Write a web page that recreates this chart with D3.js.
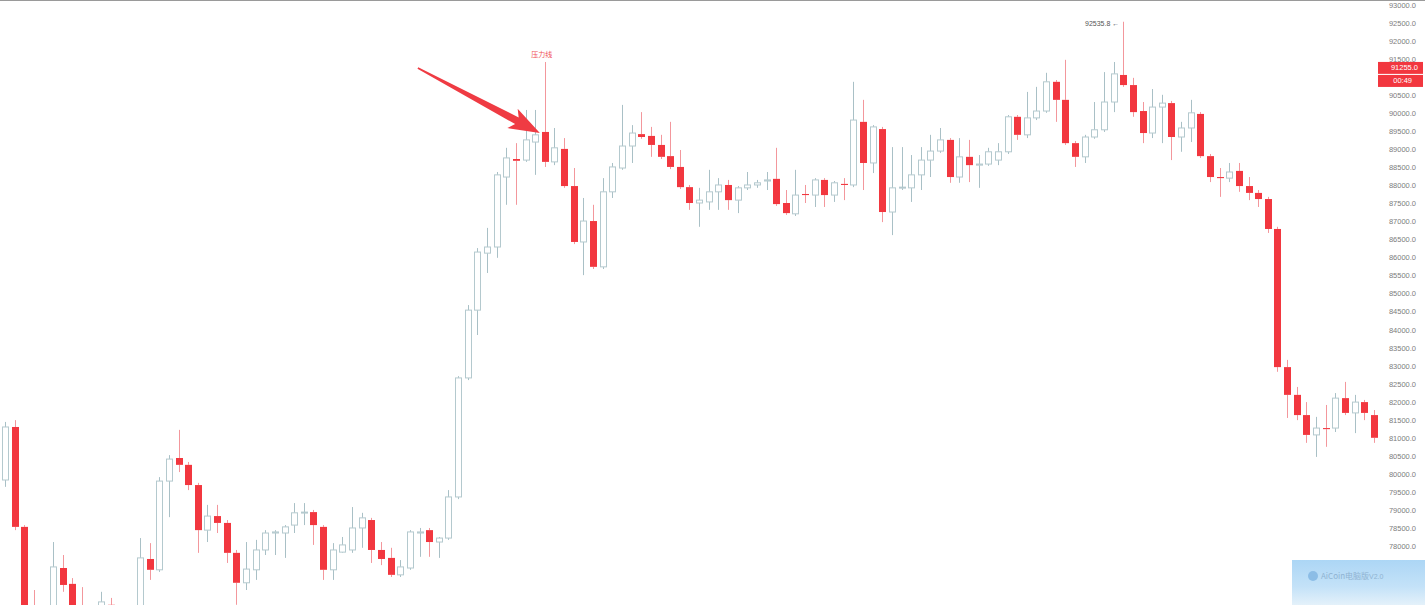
<!DOCTYPE html>
<html>
<head>
<meta charset="utf-8">
<script src="https://cdn.jsdelivr.net/npm/d3@7"></script>
<style>
  html, body { margin: 0; padding: 0; background: #fff; overflow: hidden; }
  svg { display: block; }
  text { font-family: "Liberation Sans", "DejaVu Sans", sans-serif; }
</style>
</head>
<body>
<div id="chart"></div>
<script>
// candle data
const opens = [79830,81300,78530,75950,75390,75950,77390,76950,76170,75810,
  76090,76370,76000,75810,76090,77640,77340,79800,80440,80250,
  79690,78440,78830,78640,77810,76980,77340,77890,78360,78360,
  78580,78920,78940,78530,77340,77830,77890,78500,78720,77890,
  77670,77200,77390,78360,78440,78110,78220,79360,82660,84540,
  86120,86290,88230,88730,88700,89200,89480,88650,89010,87980,
  86430,87010,85740,87820,88480,89090,89420,89370,89120,88810,
  88510,87950,87510,87540,87820,88010,87590,87930,88010,88120,
  88180,87510,87210,87760,87730,88150,87730,88040,88010,89760,
  88620,89560,87260,87930,87930,88290,88700,88950,89260,88230,
  88790,88560,88590,88700,88930,89900,89400,89870,90060,90870,
  90370,89170,88790,89340,89540,90310,91060,90780,90060,89450,
  90170,90280,89340,89590,89980,88810,88230,88200,88400,87980,
  87790,87620,86790,82960,82190,81630,81080,81270,81270,82100,
  81690,81990,81630];
const highs = [81440,81490,78580,76780,76170,78110,77750,77110,76860,76230,
  76730,76560,76230,76280,78220,78080,79910,80520,81220,80330,
  79750,79140,79140,78720,77890,78110,78170,78440,78440,78580,
  79190,79190,79000,78580,78080,78250,79080,78920,78780,78110,
  77950,77610,78440,78500,78500,78250,79550,82710,84680,86260,
  86820,88370,89040,89170,90090,90090,91420,89590,89310,88480,
  87650,87460,88200,88620,90230,89670,90030,89620,89400,89760,
  88980,88010,87930,88430,88200,88150,87980,88370,88150,88370,
  89040,87870,88430,88010,88200,88200,88120,88200,90870,90370,
  89670,89620,89060,89060,88840,89060,89400,89590,89310,89310,
  89260,88840,89040,89170,89950,89950,90590,90730,91120,90920,
  91480,89230,89400,90310,91140,91420,92535.8,90980,90310,90670,
  90510,90340,89760,90370,90030,88870,88480,88620,88620,88230,
  87870,87680,86850,83160,82410,81990,81580,81910,82240,82550,
  82190,82050,81770];
const lows = [79640,78440,75810,75120,75120,75810,76730,75950,75620,75530,
  75950,75810,75530,75620,75950,77060,77280,78800,80050,79550,
  77810,78110,78360,77530,76370,76780,77060,77750,77750,77670,
  78360,78580,78030,77060,77060,77810,77810,77950,77530,77470,
  77140,77140,77340,77700,77700,77670,78170,79300,82600,83850,
  85570,85990,87460,87460,88650,88290,88510,88560,87930,86370,
  85510,85680,85680,87650,88430,88620,89290,88790,88730,88450,
  87900,87320,86850,87320,87320,87320,87230,87870,87930,87870,
  87430,87180,87150,87510,87400,87400,87540,87590,87950,87870,
  88340,86980,86620,87870,87540,87870,88230,88900,88070,88070,
  88090,87930,88540,88560,88870,89260,89310,89810,90010,89760,
  89120,88510,88620,89290,89480,90030,90730,89900,89170,89310,
  89170,88700,88930,89200,88760,88090,87680,88090,87820,87590,
  87400,86680,82830,81550,81490,80860,80470,80750,81160,81630,
  81130,81490,80860];
const closes = [81300,78530,76090,75390,75670,77420,76920,76170,75810,76000,
  76450,76000,75810,76090,77670,77340,79800,80410,80250,79690,
  78440,78830,78640,77810,76980,77360,77890,78360,78390,78530,
  78920,78940,78580,77340,77890,78030,78500,78780,77890,77640,
  77200,77420,78390,78390,78110,78220,79360,82660,84540,86150,
  86290,88290,88760,88680,89260,89400,88650,89040,87980,86430,
  87010,85740,87820,88510,89090,89450,89340,89120,88790,88510,
  87950,87510,87590,87820,88010,87590,87930,88010,88070,88150,
  87480,87230,87730,87730,88150,87730,88070,88010,89810,88620,
  89620,87260,87930,87950,88290,88700,88950,89260,88230,88790,
  88560,88590,88930,88930,89900,89400,89870,90060,90870,90370,
  89170,88790,89340,89540,90310,91090,90780,90030,89450,90170,
  90280,89340,89590,90010,88810,88230,88200,88370,87980,87790,
  87620,86790,82960,82190,81630,81080,81270,81240,82100,81690,
  81990,81690,81000];

// right axis labels
const priceTicks = [93000,92500,92000,91500,91000,90500,90000,89500,89000,88500,
  88000,87500,87000,86500,86000,85500,85000,84500,84000,83500,
  83000,82500,82000,81500,81000,80500,80000,79500,79000,78500,78000];

const tagPrice = 91255.0;
const tagTimer = "00:49";
const noteText = "压力线";
const noteIndex = 56;
const watermark = "AiCoin电脑版";
const watermarkVer = "V2.0";

const svgWidth = 1425;
const svgHeight = 605;
const plotRight = 1378;

const upColor = "#b4c9ce";
const upWick = "#a9c0c6";
const downColor = "#f2373f";
const downWick = "#f3979c";

const candles = opens.map((o, i) => ({
  i: i, open: o, high: highs[i], low: lows[i], close: closes[i]
}));

const svg = d3.select("#chart").append("svg")
  .attr("width", svgWidth)
  .attr("height", svgHeight);

const x = d3.scaleLinear()
  .domain([0, candles.length - 1])
  .range([5, 1373.9]);

const y = d3.scaleLinear()
  .domain([78000, 93000])
  .range([546, 5]);

// top border
svg.append("line")
  .attr("x1", 0).attr("x2", svgWidth)
  .attr("y1", 0.5).attr("y2", 0.5)
  .attr("stroke", "#9a9a9a");

const plot = svg.append("g");
const bodyW = 7;

// wicks
const wick = plot.selectAll(".wick")
  .data(candles)
  .enter()
  .append("g")
  .attr("class", "wick");

wick.append("line")
  .attr("x1", d => Math.round(x(d.i)) + 0.5)
  .attr("x2", d => Math.round(x(d.i)) + 0.5)
  .attr("y1", d => y(d.high))
  .attr("y2", d => y(Math.max(d.open, d.close)))
  .attr("stroke", d => d.close >= d.open ? upWick : downWick)
  .attr("stroke-width", 1);

wick.append("line")
  .attr("x1", d => Math.round(x(d.i)) + 0.5)
  .attr("x2", d => Math.round(x(d.i)) + 0.5)
  .attr("y1", d => y(Math.min(d.open, d.close)))
  .attr("y2", d => y(d.low))
  .attr("stroke", d => d.close >= d.open ? upWick : downWick)
  .attr("stroke-width", 1);

// bodies
plot.selectAll(".body")
  .data(candles)
  .enter()
  .append("rect")
  .attr("class", "body")
  .attr("x", d => Math.round(x(d.i)) - 3 + (d.close >= d.open ? 0.5 : 0))
  .attr("width", d => d.close >= d.open ? bodyW - 1 : bodyW)
  .attr("y", d => y(Math.max(d.open, d.close)))
  .attr("height", d => Math.max(1, y(Math.min(d.open, d.close)) - y(Math.max(d.open, d.close))))
  .attr("fill", d => d.close >= d.open ? "#fff" : downColor)
  .attr("stroke", d => d.close >= d.open ? upColor : "none")
  .attr("stroke-width", 1);

// price tags position (axis labels under the tags are hidden)
const tagY = y(tagPrice);
const visibleTicks = priceTicks.filter(v => y(v) < tagY - 6 || y(v) > tagY + 22);

// right price axis
const rightAxis = d3.axisRight(y)
  .tickValues(visibleTicks)
  .tickSize(0)
  .tickFormat(d => d3.format(".1f")(d));

const axisG = svg.append("g")
  .attr("transform", `translate(${plotRight}, 0)`)
  .call(rightAxis);
axisG.select(".domain").remove();
axisG.selectAll("text")
  .attr("x", 38)
  .attr("text-anchor", "end")
  .attr("font-size", "7.5px")
  .attr("fill", "#7d7d7d")
  .style("font-family", "'Liberation Sans', sans-serif");

const tags = svg.append("g");
tags.append("rect")
  .attr("x", plotRight).attr("y", tagY - 6)
  .attr("width", 45).attr("height", 12)
  .attr("fill", downColor);
tags.append("line")
  .attr("x1", plotRight).attr("x2", plotRight + 45)
  .attr("y1", tagY + 6.5).attr("y2", tagY + 6.5)
  .attr("stroke", "#fff");
tags.append("rect")
  .attr("x", plotRight).attr("y", tagY + 7)
  .attr("width", 45).attr("height", 12)
  .attr("fill", downColor);
tags.append("text")
  .attr("x", plotRight + 40).attr("y", tagY + 2.5)
  .attr("text-anchor", "end")
  .attr("font-size", "7.5px")
  .attr("fill", "#fff")
  .text(d3.format(".1f")(tagPrice));
tags.append("text")
  .attr("x", plotRight + 34).attr("y", tagY + 15.5)
  .attr("text-anchor", "end")
  .attr("font-size", "7.5px")
  .attr("fill", "#fff")
  .text(tagTimer);

// highest price marker
const peak = candles.reduce((a, b) => b.high > a.high ? b : a);
svg.append("text")
  .attr("x", x(peak.i) - 4)
  .attr("y", y(peak.high) + 4)
  .attr("text-anchor", "end")
  .attr("font-size", "7px")
  .attr("fill", "#555")
  .text(d3.format(".1f")(peak.high) + " ←");

// note over the resistance candle
const nc = candles[noteIndex];
svg.append("text")
  .attr("x", x(noteIndex) - 3)
  .attr("y", y(nc.high) - 5)
  .attr("text-anchor", "middle")
  .attr("font-size", "7px")
  .attr("fill", "#ef5056")
  .style("font-family", "'Noto Sans CJK SC', sans-serif")
  .text(noteText);

// big red arrow pointing at the candle
const tipX = x(noteIndex) - 5;
const tipY = y(nc.open) + 1;
const dx = 122, dy = 65;
const len = Math.sqrt(dx * dx + dy * dy);
const ang = Math.atan2(dy, dx) * 180 / Math.PI;
const arrowPts = [[0, -0.8], [len - 26, -3.8], [len - 31, -11], [len, 0],
  [len - 31, 11], [len - 26, 3.8], [0, 0.8]];
svg.append("polygon")
  .attr("points", arrowPts.map(p => p.join(",")).join(" "))
  .attr("transform", `translate(${tipX - dx}, ${tipY - dy}) rotate(${ang})`)
  .attr("fill", "#ef3b43");

// watermark box bottom right
const defs = svg.append("defs");
const grad = defs.append("linearGradient")
  .attr("id", "wm")
  .attr("x1", 0).attr("y1", 0).attr("x2", 0).attr("y2", 1);
grad.append("stop").attr("offset", "0%").attr("stop-color", "#acd6f5");
grad.append("stop").attr("offset", "60%").attr("stop-color", "#c4e2f8");
grad.append("stop").attr("offset", "100%").attr("stop-color", "#e4f1fa");

const wm = svg.append("g");
wm.append("rect")
  .attr("x", 1292).attr("y", 560)
  .attr("width", 133).attr("height", 45)
  .attr("fill", "url(#wm)");
wm.append("circle")
  .attr("cx", 1313).attr("cy", 576).attr("r", 5)
  .attr("fill", "#8cbde6");
wm.append("text")
  .attr("x", 1321).attr("y", 579)
  .attr("font-size", "8px")
  .attr("fill", "#8fb3d2")
  .style("font-family", "'Noto Sans CJK SC', sans-serif")
  .text(watermark);
wm.append("text")
  .attr("x", 1369).attr("y", 579)
  .attr("font-size", "7px")
  .attr("fill", "#8fb3d2")
  .text(watermarkVer);
</script>
</body>
</html>
